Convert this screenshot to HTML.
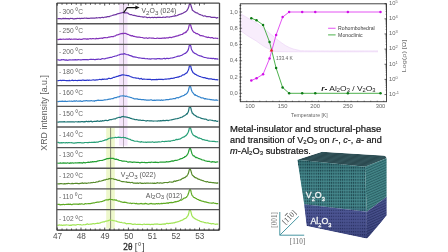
<!DOCTYPE html>
<html><head><meta charset="utf-8"><style>
html,body{margin:0;padding:0;background:#fff;}
body{width:448px;height:252px;overflow:hidden;}
svg{display:block;}
text{font-family:"Liberation Sans",sans-serif;}
.pl{font-size:7.9px;fill:#666;word-spacing:-0.6px;}
.deg{font-size:10px;}
.xt{font-size:8.2px;fill:#505050;}
.xtitle{font-size:9.3px;fill:#333;font-family:"Liberation Serif",serif;}
.ytitle{font-size:9.2px;fill:#606060;}
.pk{font-size:6.9px;fill:#555;}
.sub{font-size:6.2px;}
.sub2{font-size:5.4px;}
.sub3{font-size:5.8px;stroke-width:0.12px;}
.sup{font-size:4px;}
.ax{font-size:5.8px;fill:#666;}
.ax2{font-size:6px;fill:#666;}
.ax3{font-size:6.1px;fill:#707070;}
.sm{font-size:6px;fill:#666;}
.lg{font-size:5.7px;fill:#3a3a3a;}
.rt{font-size:7.9px;fill:#222;}
.tb{font-size:8.9px;fill:#151515;stroke:#151515;stroke-width:0.2px;}
.cb{font-size:8.8px;fill:#f4f6f6;stroke:#f4f6f6;stroke-width:0.3px;}
.csub{font-size:5.6px;}
.ser{font-size:7.2px;fill:#666;font-family:"Liberation Serif",serif;}
.ser2{fill:#444;font-size:7.6px;}
</style></head>
<body><svg width="448" height="252" viewBox="0 0 448 252">
<defs>
<pattern id="gv" width="2.2" height="3.05" patternUnits="userSpaceOnUse" x="297.5" y="160"><rect width="2.2" height="3.05" fill="#4b9296"/><rect x="0.5" y="0.55" width="1.2" height="2.0" fill="#1f4850"/></pattern>
<pattern id="ga" width="2.2" height="3.05" patternUnits="userSpaceOnUse" x="297.5" y="160"><rect width="2.2" height="3.05" fill="#4a5290"/><rect x="0.6" y="0.7" width="1.0" height="1.6" fill="#282e60"/></pattern>
<pattern id="sv" width="3" height="2.3" patternUnits="userSpaceOnUse" patternTransform="rotate(-24)"><rect width="3" height="2.3" fill="#45888a"/><rect y="1.3" width="3" height="0.9" fill="#275a60"/></pattern>
<pattern id="sa" width="3" height="2.3" patternUnits="userSpaceOnUse" patternTransform="rotate(-24)"><rect width="3" height="2.3" fill="#48508c"/><rect y="1.3" width="3" height="0.9" fill="#282e62"/></pattern>
<pattern id="tp" width="3" height="1.2" patternUnits="userSpaceOnUse" patternTransform="rotate(6)"><rect width="3" height="1.2" fill="#34565c"/><rect y="0.7" width="3" height="0.5" fill="#27454b"/></pattern>
<linearGradient id="shA" x1="0" y1="0" x2="0" y2="1"><stop offset="0" stop-color="#3a6a8a" stop-opacity="0.35"/><stop offset="0.25" stop-color="#6070b0" stop-opacity="0.05"/><stop offset="1" stop-color="#101840" stop-opacity="0.25"/></linearGradient>
<linearGradient id="shV" x1="0" y1="0" x2="0" y2="1"><stop offset="0" stop-color="#0a2a30" stop-opacity="0.30"/><stop offset="0.3" stop-color="#0a2a30" stop-opacity="0.05"/><stop offset="0.6" stop-color="#000" stop-opacity="0.03"/><stop offset="0.88" stop-color="#000" stop-opacity="0.02"/><stop offset="1" stop-color="#4050a0" stop-opacity="0.3"/></linearGradient>
</defs>
<rect x="119" y="3.05" width="8.5" height="142.64999999999998" fill="#f5e6fb"/>
<rect x="106.2" y="127.8" width="8.6" height="100.8" fill="#eef8cc"/>
<line x1="123.5" y1="3.05" x2="123.5" y2="147.4" stroke="#8a7f8c" stroke-width="0.6"/>
<line x1="110.6" y1="127.5" x2="110.6" y2="230.2" stroke="#5a5a50" stroke-width="0.7"/>
<polyline points="57.3,18.72 58.3,18.58 59.3,18.71 60.3,18.72 61.3,18.82 62.3,18.68 63.3,18.44 64.3,18.55 65.3,18.44 66.3,18.57 67.3,18.53 68.3,18.56 69.3,18.89 70.3,18.42 71.3,18.48 72.3,18.47 73.3,18.85 74.3,18.84 75.3,18.68 76.3,18.59 77.3,18.43 78.3,18.48 79.3,18.36 80.3,18.56 81.3,18.37 82.3,18.33 83.3,18.50 84.3,18.05 85.3,18.23 86.3,18.09 87.3,18.39 88.3,18.38 89.3,18.28 90.3,18.20 91.3,18.03 92.3,18.06 93.3,18.14 94.3,18.19 95.3,18.06 96.3,17.69 97.3,17.99 98.3,17.74 99.3,17.63 100.3,17.90 101.3,17.53 102.3,17.21 103.3,17.70 104.3,17.27 105.3,17.10 106.3,17.08 107.3,16.68 108.3,16.60 109.3,16.65 110.3,16.01 111.3,15.80 112.3,15.47 113.3,15.09 114.3,14.96 115.3,14.65 116.3,14.55 117.3,13.83 118.3,13.69 119.3,13.32 120.3,13.16 121.3,12.87 122.3,12.64 123.3,12.26 124.3,12.90 125.3,12.94 126.3,12.85 127.3,12.93 128.3,13.41 129.3,14.21 130.3,14.68 131.3,14.51 132.3,15.04 133.3,15.42 134.3,15.32 135.3,15.56 136.3,15.96 137.3,16.16 138.3,16.31 139.3,16.26 140.3,16.59 141.3,16.73 142.3,16.84 143.3,17.32 144.3,16.90 145.3,17.03 146.3,17.18 147.3,17.68 148.3,17.49 149.3,17.27 150.3,17.78 151.3,17.51 152.3,17.31 153.3,17.75 154.3,17.23 155.3,17.42 156.3,17.54 157.3,17.45 158.3,17.37 159.3,17.45 160.3,17.23 161.3,17.52 162.3,17.44 163.3,17.13 164.3,17.25 165.3,17.35 166.3,16.95 167.3,16.77 168.3,17.02 169.3,17.08 170.3,16.73 171.3,16.60 172.3,16.47 173.3,15.99 174.3,16.23 175.3,15.60 176.3,15.81 177.3,15.45 178.3,14.89 179.3,14.47 180.3,14.15 181.3,13.84 182.3,13.43 183.3,12.95 184.3,12.35 184.8,12.20 185.3,11.82 185.8,11.43 186.3,11.15 186.8,10.55 187.3,10.01 187.8,8.96 188.3,8.12 188.8,6.56 189.3,4.26 189.8,3.75 190.3,3.75 190.8,4.74 191.3,6.81 191.8,8.13 192.3,9.98 192.8,10.47 193.3,10.78 193.8,11.19 194.3,11.60 194.8,12.05 195.3,12.16 195.8,12.52 196.3,12.93 197.3,12.90 198.3,13.74 199.3,14.34 200.3,14.65 201.3,15.03 202.3,15.33 203.3,16.11 204.3,15.97 205.3,15.94 206.3,16.55 207.3,16.55 208.3,16.54 209.3,16.72 210.3,16.75 211.3,17.45 212.3,17.33 213.3,17.43 214.3,17.35 215.3,17.36 216.3,18.12 217.3,17.51 218.3,18.04" fill="none" stroke="#7036a2" stroke-width="1.2" stroke-linejoin="round"/>
<text transform="translate(59.0,13.65) scale(0.84,1)" class="pl">- 300 <tspan class="deg" dy="1.5">°</tspan><tspan dy="-1.5">C</tspan></text>
<polyline points="57.3,39.22 58.3,39.60 59.3,39.30 60.3,39.11 61.3,39.34 62.3,39.27 63.3,39.16 64.3,39.27 65.3,39.30 66.3,39.00 67.3,39.08 68.3,39.32 69.3,38.76 70.3,39.45 71.3,39.07 72.3,39.27 73.3,39.19 74.3,39.07 75.3,39.15 76.3,39.06 77.3,39.44 78.3,39.42 79.3,39.02 80.3,39.29 81.3,39.28 82.3,39.34 83.3,38.83 84.3,38.90 85.3,38.75 86.3,39.16 87.3,38.96 88.3,39.14 89.3,38.77 90.3,38.59 91.3,39.00 92.3,38.52 93.3,38.58 94.3,38.75 95.3,39.02 96.3,38.36 97.3,38.58 98.3,38.60 99.3,38.36 100.3,38.28 101.3,38.00 102.3,38.36 103.3,37.87 104.3,37.70 105.3,37.58 106.3,37.74 107.3,37.68 108.3,37.20 109.3,37.17 110.3,36.96 111.3,36.49 112.3,36.54 113.3,36.63 114.3,35.98 115.3,35.92 116.3,35.10 117.3,34.84 118.3,34.67 119.3,34.24 120.3,33.81 121.3,33.72 122.3,33.35 123.3,33.55 124.3,33.39 125.3,33.44 126.3,33.63 127.3,34.31 128.3,34.34 129.3,35.16 130.3,35.35 131.3,35.84 132.3,35.60 133.3,36.31 134.3,36.35 135.3,36.63 136.3,36.81 137.3,37.11 138.3,37.13 139.3,37.01 140.3,37.46 141.3,37.49 142.3,37.51 143.3,37.82 144.3,38.09 145.3,38.03 146.3,37.80 147.3,38.34 148.3,38.20 149.3,37.95 150.3,38.01 151.3,38.18 152.3,38.05 153.3,38.18 154.3,38.42 155.3,38.49 156.3,38.32 157.3,38.03 158.3,38.28 159.3,38.31 160.3,38.26 161.3,38.36 162.3,38.06 163.3,38.21 164.3,37.87 165.3,38.29 166.3,37.73 167.3,37.82 168.3,37.96 169.3,37.37 170.3,37.43 171.3,37.64 172.3,37.24 173.3,36.86 174.3,36.80 175.3,36.35 176.3,36.11 177.3,35.86 178.3,35.61 179.3,35.10 180.3,34.85 181.3,34.48 182.3,34.50 183.3,33.48 184.3,32.88 184.8,32.89 185.3,32.61 185.8,31.84 186.3,32.13 186.8,31.27 187.3,30.34 187.8,30.15 188.3,28.71 188.8,26.80 189.3,24.88 189.8,24.40 190.3,24.40 190.8,25.51 191.3,27.56 191.8,29.07 192.3,30.03 192.8,30.93 193.3,31.52 193.8,32.11 194.3,32.37 194.8,32.47 195.3,32.92 195.8,33.38 196.3,33.65 197.3,33.52 198.3,34.26 199.3,34.78 200.3,35.76 201.3,35.54 202.3,35.89 203.3,35.97 204.3,36.46 205.3,36.79 206.3,36.90 207.3,37.54 208.3,37.18 209.3,37.47 210.3,37.80 211.3,37.56 212.3,37.59 213.3,38.28 214.3,38.24 215.3,38.16 216.3,38.26 217.3,38.44 218.3,38.61" fill="none" stroke="#8232b8" stroke-width="1.2" stroke-linejoin="round"/>
<text transform="translate(59.0,32.70) scale(0.84,1)" class="pl">- 250 <tspan class="deg" dy="1.5">°</tspan><tspan dy="-1.5">C</tspan></text>
<line x1="56.8" y1="23.70" x2="219.5" y2="23.70" stroke="#555" stroke-width="1.35"/>
<polyline points="57.3,59.60 58.3,59.79 59.3,60.19 60.3,60.21 61.3,59.66 62.3,59.78 63.3,59.62 64.3,59.80 65.3,60.09 66.3,59.88 67.3,60.31 68.3,60.04 69.3,59.91 70.3,59.80 71.3,60.01 72.3,59.89 73.3,59.77 74.3,59.78 75.3,59.72 76.3,59.78 77.3,59.86 78.3,59.65 79.3,59.77 80.3,59.91 81.3,59.85 82.3,59.72 83.3,59.72 84.3,59.65 85.3,59.66 86.3,59.60 87.3,59.63 88.3,59.80 89.3,59.47 90.3,59.32 91.3,59.40 92.3,59.47 93.3,59.32 94.3,59.53 95.3,59.65 96.3,59.24 97.3,59.36 98.3,59.00 99.3,59.26 100.3,59.46 101.3,59.09 102.3,58.52 103.3,58.77 104.3,58.84 105.3,58.60 106.3,58.23 107.3,58.08 108.3,57.96 109.3,57.54 110.3,57.46 111.3,57.36 112.3,56.99 113.3,56.51 114.3,56.33 115.3,55.99 116.3,56.02 117.3,55.50 118.3,55.00 119.3,54.85 120.3,54.32 121.3,54.18 122.3,53.98 123.3,54.13 124.3,53.67 125.3,54.04 126.3,54.52 127.3,54.73 128.3,54.60 129.3,55.46 130.3,55.58 131.3,55.89 132.3,56.38 133.3,56.89 134.3,56.92 135.3,57.13 136.3,57.21 137.3,57.47 138.3,57.79 139.3,57.79 140.3,57.99 141.3,58.17 142.3,58.31 143.3,58.45 144.3,58.37 145.3,58.75 146.3,58.74 147.3,58.68 148.3,58.99 149.3,58.84 150.3,59.15 151.3,58.94 152.3,58.73 153.3,58.74 154.3,58.86 155.3,58.89 156.3,59.10 157.3,58.50 158.3,58.72 159.3,58.60 160.3,58.92 161.3,58.76 162.3,59.01 163.3,58.50 164.3,58.41 165.3,58.85 166.3,58.45 167.3,58.24 168.3,58.57 169.3,58.47 170.3,58.21 171.3,58.00 172.3,57.98 173.3,57.55 174.3,57.31 175.3,57.03 176.3,56.77 177.3,56.35 178.3,56.11 179.3,56.22 180.3,55.70 181.3,55.40 182.3,54.96 183.3,54.30 184.3,53.76 184.8,53.39 185.3,53.46 185.8,53.06 186.3,52.46 186.8,52.04 187.3,51.48 187.8,50.64 188.3,49.62 188.8,47.66 189.3,45.44 189.8,45.05 190.3,45.05 190.8,46.02 191.3,48.68 191.8,49.94 192.3,50.82 192.8,51.84 193.3,52.09 193.8,52.55 194.3,53.20 194.8,53.33 195.3,53.64 195.8,53.79 196.3,54.03 197.3,54.65 198.3,55.27 199.3,55.57 200.3,55.95 201.3,56.17 202.3,56.57 203.3,57.05 204.3,57.43 205.3,57.50 206.3,57.78 207.3,58.04 208.3,58.04 209.3,58.26 210.3,58.30 211.3,58.35 212.3,58.64 213.3,58.25 214.3,58.83 215.3,58.66 216.3,58.92 217.3,58.81 218.3,59.51" fill="none" stroke="#6a34c4" stroke-width="1.2" stroke-linejoin="round"/>
<text transform="translate(59.0,53.90) scale(0.84,1)" class="pl">- 200 <tspan class="deg" dy="1.5">°</tspan><tspan dy="-1.5">C</tspan></text>
<line x1="56.8" y1="44.35" x2="219.5" y2="44.35" stroke="#555" stroke-width="1.35"/>
<polyline points="57.3,80.78 58.3,80.59 59.3,80.52 60.3,80.20 61.3,80.56 62.3,80.38 63.3,80.47 64.3,80.43 65.3,80.50 66.3,80.61 67.3,80.48 68.3,80.76 69.3,80.34 70.3,80.73 71.3,80.49 72.3,80.15 73.3,80.56 74.3,80.50 75.3,80.28 76.3,80.48 77.3,80.61 78.3,80.41 79.3,80.33 80.3,80.29 81.3,80.54 82.3,80.07 83.3,80.07 84.3,80.34 85.3,80.27 86.3,80.38 87.3,80.02 88.3,80.37 89.3,80.09 90.3,80.27 91.3,80.27 92.3,79.98 93.3,79.83 94.3,80.03 95.3,80.10 96.3,79.78 97.3,79.88 98.3,79.76 99.3,79.47 100.3,79.47 101.3,79.68 102.3,79.09 103.3,79.40 104.3,79.15 105.3,79.28 106.3,79.04 107.3,79.20 108.3,78.39 109.3,78.28 110.3,78.54 111.3,78.37 112.3,78.13 113.3,77.36 114.3,77.35 115.3,76.96 116.3,76.68 117.3,76.30 118.3,76.14 119.3,75.62 120.3,75.61 121.3,75.15 122.3,74.94 123.3,74.85 124.3,75.02 125.3,75.27 126.3,75.28 127.3,75.66 128.3,75.60 129.3,76.06 130.3,76.55 131.3,76.94 132.3,77.28 133.3,77.61 134.3,77.76 135.3,77.88 136.3,78.06 137.3,78.24 138.3,78.13 139.3,78.79 140.3,78.79 141.3,78.41 142.3,79.35 143.3,79.20 144.3,79.16 145.3,79.23 146.3,79.24 147.3,79.41 148.3,79.34 149.3,79.43 150.3,79.33 151.3,79.83 152.3,79.67 153.3,79.52 154.3,79.71 155.3,79.71 156.3,79.40 157.3,79.62 158.3,79.37 159.3,79.33 160.3,79.38 161.3,79.30 162.3,79.37 163.3,79.55 164.3,79.25 165.3,79.09 166.3,79.19 167.3,79.03 168.3,78.78 169.3,78.96 170.3,78.57 171.3,78.21 172.3,78.49 173.3,78.19 174.3,78.04 175.3,77.52 176.3,77.50 177.3,77.12 178.3,77.10 179.3,76.64 180.3,76.27 181.3,76.19 182.3,75.16 183.3,74.78 184.3,74.74 184.8,74.00 185.3,73.86 185.8,73.41 186.3,73.05 186.8,72.93 187.3,72.11 187.8,71.02 188.3,70.24 188.8,68.63 189.3,66.40 189.8,65.70 190.3,65.70 190.8,66.34 191.3,68.77 191.8,70.38 192.3,71.08 192.8,72.32 193.3,72.91 193.8,73.13 194.3,73.51 194.8,74.12 195.3,74.45 195.8,74.47 196.3,74.75 197.3,75.54 198.3,75.80 199.3,76.30 200.3,76.51 201.3,76.97 202.3,77.29 203.3,77.64 204.3,77.65 205.3,77.83 206.3,78.36 207.3,78.34 208.3,78.81 209.3,78.82 210.3,78.84 211.3,78.83 212.3,79.29 213.3,79.34 214.3,79.39 215.3,79.78 216.3,79.59 217.3,79.79 218.3,79.67" fill="none" stroke="#2a36cc" stroke-width="1.2" stroke-linejoin="round"/>
<text transform="translate(59.0,74.20) scale(0.84,1)" class="pl">- 180 <tspan class="deg" dy="1.5">°</tspan><tspan dy="-1.5">C</tspan></text>
<line x1="56.8" y1="65.00" x2="219.5" y2="65.00" stroke="#555" stroke-width="1.35"/>
<polyline points="57.3,101.50 58.3,101.65 59.3,101.28 60.3,101.24 61.3,101.38 62.3,101.11 63.3,101.31 64.3,101.37 65.3,101.16 66.3,101.53 67.3,101.36 68.3,101.23 69.3,101.07 70.3,101.24 71.3,101.15 72.3,101.31 73.3,101.13 74.3,100.87 75.3,101.28 76.3,100.72 77.3,101.25 78.3,101.12 79.3,101.07 80.3,100.90 81.3,101.29 82.3,101.43 83.3,100.93 84.3,100.87 85.3,100.88 86.3,100.50 87.3,100.91 88.3,100.88 89.3,100.73 90.3,100.80 91.3,100.53 92.3,101.02 93.3,100.83 94.3,101.34 95.3,100.53 96.3,100.69 97.3,100.40 98.3,100.12 99.3,100.45 100.3,100.42 101.3,100.39 102.3,100.36 103.3,100.23 104.3,99.90 105.3,99.89 106.3,99.76 107.3,99.66 108.3,99.30 109.3,99.20 110.3,99.12 111.3,98.76 112.3,98.67 113.3,98.59 114.3,97.84 115.3,97.71 116.3,97.65 117.3,96.97 118.3,96.78 119.3,96.82 120.3,95.99 121.3,96.01 122.3,95.78 123.3,95.85 124.3,95.95 125.3,96.33 126.3,96.07 127.3,96.49 128.3,96.83 129.3,97.02 130.3,97.38 131.3,97.58 132.3,98.05 133.3,98.26 134.3,98.89 135.3,98.80 136.3,98.80 137.3,98.87 138.3,99.33 139.3,99.43 140.3,99.25 141.3,99.70 142.3,99.61 143.3,99.52 144.3,99.89 145.3,99.74 146.3,100.15 147.3,100.03 148.3,100.12 149.3,100.12 150.3,99.96 151.3,99.75 152.3,100.32 153.3,100.31 154.3,100.12 155.3,100.39 156.3,100.11 157.3,100.08 158.3,100.21 159.3,100.04 160.3,100.38 161.3,99.93 162.3,100.30 163.3,100.10 164.3,100.01 165.3,99.92 166.3,99.61 167.3,99.67 168.3,99.65 169.3,99.37 170.3,99.06 171.3,99.21 172.3,98.99 173.3,98.65 174.3,98.63 175.3,98.69 176.3,97.77 177.3,97.54 178.3,98.00 179.3,97.31 180.3,96.86 181.3,96.35 182.3,95.96 183.3,95.65 184.3,95.27 184.8,94.78 185.3,94.30 185.8,94.35 186.3,93.96 186.8,93.32 187.3,93.08 187.8,91.99 188.3,90.88 188.8,89.02 189.3,86.94 189.8,86.35 190.3,86.35 190.8,87.31 191.3,89.62 191.8,91.08 192.3,92.01 192.8,92.67 193.3,93.13 193.8,94.03 194.3,94.34 194.8,95.04 195.3,94.56 195.8,95.31 196.3,95.46 197.3,95.87 198.3,96.67 199.3,96.77 200.3,97.25 201.3,97.94 202.3,97.88 203.3,98.01 204.3,98.83 205.3,98.59 206.3,98.92 207.3,99.06 208.3,99.25 209.3,99.25 210.3,99.67 211.3,99.60 212.3,99.95 213.3,99.85 214.3,100.22 215.3,100.19 216.3,99.94 217.3,100.24 218.3,100.42" fill="none" stroke="#3484cc" stroke-width="1.2" stroke-linejoin="round"/>
<text transform="translate(59.0,95.20) scale(0.84,1)" class="pl">- 160 <tspan class="deg" dy="1.5">°</tspan><tspan dy="-1.5">C</tspan></text>
<line x1="56.8" y1="85.65" x2="219.5" y2="85.65" stroke="#555" stroke-width="1.35"/>
<polyline points="57.3,122.16 58.3,122.09 59.3,121.91 60.3,121.77 61.3,121.86 62.3,121.83 63.3,121.93 64.3,121.67 65.3,121.98 66.3,122.00 67.3,121.73 68.3,121.87 69.3,121.93 70.3,121.97 71.3,121.91 72.3,121.74 73.3,121.78 74.3,122.05 75.3,121.74 76.3,121.77 77.3,121.97 78.3,121.64 79.3,121.82 80.3,121.81 81.3,121.59 82.3,121.48 83.3,121.82 84.3,121.60 85.3,121.82 86.3,121.22 87.3,121.70 88.3,121.37 89.3,121.68 90.3,121.39 91.3,121.10 92.3,121.93 93.3,121.51 94.3,121.30 95.3,121.37 96.3,121.42 97.3,120.86 98.3,121.18 99.3,121.43 100.3,120.91 101.3,121.30 102.3,120.70 103.3,120.92 104.3,120.69 105.3,120.38 106.3,120.46 107.3,120.59 108.3,120.49 109.3,119.81 110.3,119.70 111.3,119.77 112.3,119.24 113.3,119.05 114.3,118.75 115.3,118.99 116.3,118.33 117.3,117.80 118.3,117.52 119.3,117.21 120.3,117.56 121.3,116.89 122.3,116.70 123.3,116.28 124.3,116.95 125.3,116.95 126.3,117.07 127.3,117.16 128.3,117.67 129.3,117.68 130.3,118.33 131.3,118.43 132.3,118.85 133.3,118.98 134.3,119.37 135.3,119.75 136.3,119.46 137.3,119.78 138.3,120.09 139.3,120.09 140.3,120.06 141.3,120.52 142.3,120.46 143.3,120.43 144.3,120.50 145.3,120.72 146.3,121.09 147.3,120.53 148.3,120.73 149.3,120.82 150.3,120.89 151.3,120.81 152.3,120.95 153.3,121.06 154.3,121.01 155.3,120.98 156.3,120.98 157.3,121.06 158.3,120.71 159.3,121.04 160.3,120.65 161.3,120.92 162.3,120.62 163.3,120.39 164.3,120.54 165.3,120.64 166.3,120.42 167.3,120.32 168.3,120.56 169.3,120.24 170.3,119.98 171.3,119.95 172.3,119.70 173.3,119.40 174.3,119.20 175.3,118.96 176.3,118.77 177.3,118.65 178.3,118.30 179.3,118.01 180.3,117.65 181.3,117.22 182.3,117.05 183.3,116.32 184.3,115.74 184.8,115.63 185.3,115.15 185.8,114.72 186.3,114.46 186.8,113.60 187.3,113.86 187.8,112.64 188.3,111.78 188.8,109.58 189.3,107.00 189.8,107.00 190.3,107.00 190.8,107.87 191.3,110.21 191.8,111.64 192.3,113.20 192.8,113.39 193.3,114.03 193.8,114.54 194.3,115.02 194.8,115.13 195.3,115.64 195.8,115.80 196.3,116.20 197.3,117.02 198.3,117.08 199.3,117.47 200.3,117.77 201.3,118.42 202.3,118.59 203.3,118.77 204.3,119.12 205.3,119.17 206.3,119.25 207.3,119.97 208.3,120.32 209.3,119.98 210.3,120.00 211.3,120.24 212.3,120.38 213.3,120.74 214.3,120.86 215.3,120.66 216.3,121.06 217.3,121.30 218.3,121.22" fill="none" stroke="#1d7474" stroke-width="1.2" stroke-linejoin="round"/>
<text transform="translate(59.0,115.50) scale(0.84,1)" class="pl">- 150 <tspan class="deg" dy="1.5">°</tspan><tspan dy="-1.5">C</tspan></text>
<line x1="56.8" y1="106.30" x2="219.5" y2="106.30" stroke="#555" stroke-width="1.35"/>
<polyline points="57.3,142.29 58.3,142.39 59.3,142.86 60.3,142.86 61.3,142.69 62.3,142.86 63.3,142.49 64.3,142.74 65.3,142.92 66.3,142.48 67.3,142.82 68.3,142.67 69.3,142.71 70.3,142.76 71.3,142.64 72.3,142.82 73.3,143.03 74.3,143.09 75.3,142.91 76.3,142.82 77.3,142.68 78.3,142.66 79.3,142.56 80.3,142.63 81.3,142.78 82.3,142.76 83.3,143.00 84.3,142.64 85.3,142.50 86.3,142.48 87.3,142.58 88.3,142.56 89.3,142.34 90.3,142.47 91.3,142.31 92.3,142.29 93.3,142.31 94.3,142.05 95.3,142.32 96.3,142.20 97.3,142.18 98.3,142.05 99.3,141.48 100.3,141.26 101.3,141.36 102.3,141.01 103.3,140.61 104.3,140.33 105.3,139.88 106.3,139.92 107.3,139.38 108.3,138.78 109.3,138.23 110.3,138.16 111.3,138.09 112.3,137.82 113.3,137.76 114.3,137.73 115.3,137.27 116.3,137.64 117.3,137.52 118.3,137.13 119.3,137.30 120.3,137.45 121.3,137.63 122.3,137.47 123.3,137.31 124.3,137.60 125.3,137.65 126.3,138.10 127.3,138.34 128.3,138.83 129.3,139.12 130.3,139.37 131.3,140.26 132.3,140.37 133.3,140.64 134.3,141.07 135.3,141.26 136.3,141.26 137.3,141.20 138.3,141.58 139.3,141.74 140.3,142.16 141.3,141.60 142.3,141.98 143.3,142.04 144.3,142.27 145.3,142.10 146.3,142.30 147.3,142.09 148.3,142.03 149.3,142.10 150.3,142.05 151.3,142.24 152.3,141.81 153.3,142.17 154.3,142.35 155.3,142.03 156.3,142.10 157.3,142.11 158.3,141.95 159.3,141.79 160.3,142.01 161.3,141.77 162.3,141.43 163.3,141.49 164.3,141.57 165.3,141.44 166.3,141.39 167.3,141.28 168.3,141.03 169.3,141.06 170.3,141.34 171.3,140.76 172.3,140.75 173.3,140.29 174.3,140.32 175.3,139.95 176.3,139.33 177.3,139.63 178.3,139.34 179.3,139.05 180.3,138.85 181.3,138.34 182.3,137.49 183.3,137.19 184.3,136.88 184.8,136.52 185.3,135.84 185.8,135.75 186.3,135.29 186.8,134.71 187.3,133.94 187.8,133.04 188.3,132.06 188.8,130.52 189.3,128.22 189.8,127.65 190.3,127.65 190.8,128.79 191.3,130.85 191.8,132.46 192.3,133.56 192.8,134.40 193.3,135.11 193.8,135.41 194.3,135.96 194.8,135.79 195.3,136.22 195.8,136.82 196.3,136.62 197.3,137.21 198.3,138.18 199.3,137.93 200.3,138.51 201.3,138.64 202.3,139.56 203.3,139.53 204.3,139.82 205.3,140.09 206.3,140.31 207.3,140.35 208.3,140.98 209.3,141.09 210.3,141.26 211.3,141.24 212.3,141.36 213.3,141.29 214.3,141.41 215.3,141.53 216.3,141.74 217.3,141.77 218.3,141.59" fill="none" stroke="#28a078" stroke-width="1.2" stroke-linejoin="round"/>
<text transform="translate(59.0,136.60) scale(0.84,1)" class="pl">- 140 <tspan class="deg" dy="1.5">°</tspan><tspan dy="-1.5">C</tspan></text>
<line x1="56.8" y1="126.95" x2="219.5" y2="126.95" stroke="#555" stroke-width="1.35"/>
<polyline points="57.3,163.05 58.3,163.16 59.3,163.23 60.3,162.89 61.3,163.26 62.3,163.03 63.3,162.93 64.3,163.17 65.3,162.96 66.3,163.30 67.3,162.90 68.3,163.03 69.3,163.34 70.3,162.92 71.3,163.18 72.3,162.77 73.3,163.10 74.3,162.99 75.3,162.88 76.3,162.97 77.3,162.84 78.3,162.95 79.3,162.70 80.3,162.79 81.3,162.71 82.3,163.21 83.3,162.46 84.3,162.61 85.3,162.89 86.3,162.49 87.3,162.36 88.3,162.19 89.3,162.50 90.3,161.94 91.3,162.15 92.3,161.59 93.3,161.93 94.3,161.66 95.3,161.71 96.3,161.68 97.3,161.11 98.3,160.95 99.3,160.62 100.3,160.51 101.3,160.52 102.3,160.44 103.3,159.97 104.3,159.68 105.3,159.41 106.3,158.87 107.3,158.66 108.3,158.57 109.3,158.34 110.3,158.33 111.3,158.28 112.3,158.27 113.3,158.40 114.3,158.92 115.3,159.32 116.3,159.08 117.3,159.60 118.3,159.71 119.3,160.48 120.3,160.50 121.3,160.68 122.3,161.16 123.3,161.19 124.3,161.14 125.3,161.24 126.3,161.29 127.3,161.85 128.3,162.06 129.3,161.82 130.3,161.83 131.3,162.04 132.3,162.38 133.3,162.07 134.3,162.12 135.3,162.21 136.3,162.44 137.3,162.34 138.3,162.28 139.3,162.55 140.3,162.81 141.3,162.43 142.3,162.42 143.3,162.52 144.3,162.37 145.3,162.64 146.3,162.56 147.3,162.60 148.3,162.44 149.3,162.25 150.3,162.57 151.3,162.14 152.3,162.23 153.3,162.34 154.3,162.36 155.3,162.12 156.3,162.44 157.3,162.40 158.3,162.54 159.3,162.22 160.3,162.02 161.3,162.11 162.3,162.08 163.3,162.13 164.3,161.99 165.3,162.20 166.3,161.67 167.3,161.84 168.3,161.86 169.3,161.68 170.3,161.56 171.3,161.12 172.3,160.92 173.3,161.17 174.3,160.56 175.3,160.34 176.3,160.36 177.3,160.24 178.3,159.80 179.3,159.44 180.3,158.89 181.3,158.61 182.3,158.47 183.3,157.58 184.3,157.37 184.8,156.64 185.3,156.72 185.8,156.29 186.3,155.93 186.8,155.42 187.3,154.50 187.8,153.79 188.3,152.69 188.8,151.04 189.3,149.09 189.8,148.30 190.3,148.30 190.8,149.48 191.3,151.41 191.8,153.21 192.3,154.27 192.8,155.07 193.3,155.80 193.8,155.77 194.3,156.01 194.8,156.55 195.3,157.07 195.8,157.66 196.3,157.41 197.3,157.73 198.3,158.36 199.3,158.67 200.3,158.97 201.3,159.39 202.3,160.00 203.3,160.02 204.3,160.34 205.3,160.99 206.3,161.00 207.3,161.38 208.3,161.32 209.3,161.36 210.3,161.79 211.3,162.10 212.3,161.61 213.3,161.89 214.3,161.78 215.3,162.38 216.3,162.03 217.3,161.92 218.3,162.00" fill="none" stroke="#24a034" stroke-width="1.2" stroke-linejoin="round"/>
<text transform="translate(59.0,156.60) scale(0.84,1)" class="pl">- 130 <tspan class="deg" dy="1.5">°</tspan><tspan dy="-1.5">C</tspan></text>
<line x1="56.8" y1="147.60" x2="219.5" y2="147.60" stroke="#555" stroke-width="1.35"/>
<polyline points="57.3,183.87 58.3,183.78 59.3,183.84 60.3,183.63 61.3,183.61 62.3,183.77 63.3,184.02 64.3,183.63 65.3,183.83 66.3,183.62 67.3,183.67 68.3,183.41 69.3,183.48 70.3,183.75 71.3,183.59 72.3,183.32 73.3,183.71 74.3,183.51 75.3,183.35 76.3,183.31 77.3,183.42 78.3,183.72 79.3,183.68 80.3,183.37 81.3,183.31 82.3,182.88 83.3,183.44 84.3,183.04 85.3,183.05 86.3,183.43 87.3,183.21 88.3,182.96 89.3,183.00 90.3,182.85 91.3,182.64 92.3,182.77 93.3,182.42 94.3,182.48 95.3,182.32 96.3,181.96 97.3,181.98 98.3,181.62 99.3,181.17 100.3,181.21 101.3,180.97 102.3,180.53 103.3,180.43 104.3,179.86 105.3,179.98 106.3,179.34 107.3,179.28 108.3,179.12 109.3,178.51 110.3,178.91 111.3,178.45 112.3,178.75 113.3,178.77 114.3,179.44 115.3,179.32 116.3,179.56 117.3,180.15 118.3,180.45 119.3,180.27 120.3,180.95 121.3,181.30 122.3,181.57 123.3,181.58 124.3,181.78 125.3,181.98 126.3,181.85 127.3,182.35 128.3,182.32 129.3,182.25 130.3,182.78 131.3,182.50 132.3,182.43 133.3,183.07 134.3,183.08 135.3,183.12 136.3,183.31 137.3,182.93 138.3,183.38 139.3,182.99 140.3,182.84 141.3,183.41 142.3,183.20 143.3,183.50 144.3,183.02 145.3,183.30 146.3,183.22 147.3,183.17 148.3,183.08 149.3,183.23 150.3,183.16 151.3,183.25 152.3,183.12 153.3,183.33 154.3,183.09 155.3,183.43 156.3,183.14 157.3,182.67 158.3,182.97 159.3,183.17 160.3,182.85 161.3,183.03 162.3,183.09 163.3,182.87 164.3,182.53 165.3,182.52 166.3,182.52 167.3,182.58 168.3,182.50 169.3,181.95 170.3,182.01 171.3,182.08 172.3,182.13 173.3,181.82 174.3,180.93 175.3,181.35 176.3,180.91 177.3,180.58 178.3,180.34 179.3,180.02 180.3,179.85 181.3,179.38 182.3,178.44 183.3,178.40 184.3,177.58 184.8,177.76 185.3,177.19 185.8,176.76 186.3,176.24 186.8,176.17 187.3,175.28 187.8,174.52 188.3,173.58 188.8,171.66 189.3,169.62 189.8,168.95 190.3,168.95 190.8,170.44 191.3,172.17 191.8,173.90 192.3,175.05 192.8,175.60 193.3,175.94 193.8,176.60 194.3,176.67 194.8,177.44 195.3,177.77 195.8,177.54 196.3,178.02 197.3,178.42 198.3,179.21 199.3,179.34 200.3,179.83 201.3,180.12 202.3,180.56 203.3,180.64 204.3,181.24 205.3,181.54 206.3,181.85 207.3,181.56 208.3,182.08 209.3,182.29 210.3,182.42 211.3,182.46 212.3,182.72 213.3,182.65 214.3,182.81 215.3,182.88 216.3,183.04 217.3,182.93 218.3,183.09" fill="none" stroke="#568a2a" stroke-width="1.2" stroke-linejoin="round"/>
<text transform="translate(59.0,178.20) scale(0.84,1)" class="pl">- 120 <tspan class="deg" dy="1.5">°</tspan><tspan dy="-1.5">C</tspan></text>
<line x1="56.8" y1="168.25" x2="219.5" y2="168.25" stroke="#555" stroke-width="1.35"/>
<polyline points="57.3,204.46 58.3,204.43 59.3,204.40 60.3,204.85 61.3,204.54 62.3,204.57 63.3,204.28 64.3,204.69 65.3,204.52 66.3,204.43 67.3,204.43 68.3,204.17 69.3,204.41 70.3,204.14 71.3,204.56 72.3,204.60 73.3,204.04 74.3,204.15 75.3,204.12 76.3,204.16 77.3,204.07 78.3,204.34 79.3,203.92 80.3,204.15 81.3,203.84 82.3,203.96 83.3,204.28 84.3,204.11 85.3,203.62 86.3,203.78 87.3,203.76 88.3,203.58 89.3,203.62 90.3,203.55 91.3,203.33 92.3,203.22 93.3,202.85 94.3,202.98 95.3,202.50 96.3,202.35 97.3,202.18 98.3,202.09 99.3,202.03 100.3,201.78 101.3,201.56 102.3,201.38 103.3,200.96 104.3,200.74 105.3,200.02 106.3,199.92 107.3,199.83 108.3,199.87 109.3,199.39 110.3,199.38 111.3,199.51 112.3,199.62 113.3,200.00 114.3,199.72 115.3,200.11 116.3,199.93 117.3,200.71 118.3,201.04 119.3,201.04 120.3,201.55 121.3,201.80 122.3,202.12 123.3,202.38 124.3,202.18 125.3,202.44 126.3,202.46 127.3,202.97 128.3,203.02 129.3,203.29 130.3,203.05 131.3,203.56 132.3,203.29 133.3,203.26 134.3,203.26 135.3,203.73 136.3,203.41 137.3,203.78 138.3,203.82 139.3,203.95 140.3,203.53 141.3,203.46 142.3,203.88 143.3,203.93 144.3,203.86 145.3,203.36 146.3,203.63 147.3,203.92 148.3,204.14 149.3,203.93 150.3,203.59 151.3,203.46 152.3,203.83 153.3,203.89 154.3,203.84 155.3,204.06 156.3,203.53 157.3,203.86 158.3,203.44 159.3,203.90 160.3,203.77 161.3,203.44 162.3,203.58 163.3,203.24 164.3,203.31 165.3,203.45 166.3,203.04 167.3,202.90 168.3,203.30 169.3,202.51 170.3,202.62 171.3,202.42 172.3,202.73 173.3,202.35 174.3,202.08 175.3,201.60 176.3,201.81 177.3,201.43 178.3,201.33 179.3,200.66 180.3,200.18 181.3,200.14 182.3,199.50 183.3,198.82 184.3,198.10 184.8,197.98 185.3,197.85 185.8,197.67 186.3,197.24 186.8,196.73 187.3,196.01 187.8,195.25 188.3,193.79 188.8,192.34 189.3,190.30 189.8,189.60 190.3,189.60 190.8,190.58 191.3,192.92 191.8,194.71 192.3,195.62 192.8,196.01 193.3,196.87 193.8,197.41 194.3,197.51 194.8,197.84 195.3,198.08 195.8,198.35 196.3,198.48 197.3,199.39 198.3,199.53 199.3,200.31 200.3,200.40 201.3,200.85 202.3,201.17 203.3,201.33 204.3,201.78 205.3,201.81 206.3,202.07 207.3,202.40 208.3,202.70 209.3,202.89 210.3,202.99 211.3,203.06 212.3,203.15 213.3,202.71 214.3,203.23 215.3,203.30 216.3,203.67 217.3,203.72 218.3,203.71" fill="none" stroke="#5eaa22" stroke-width="1.2" stroke-linejoin="round"/>
<text transform="translate(59.0,198.50) scale(0.84,1)" class="pl">- 110 <tspan class="deg" dy="1.5">°</tspan><tspan dy="-1.5">C</tspan></text>
<line x1="56.8" y1="188.90" x2="219.5" y2="188.90" stroke="#555" stroke-width="1.35"/>
<polyline points="57.3,225.11 58.3,225.32 59.3,224.83 60.3,225.22 61.3,224.91 62.3,225.52 63.3,225.08 64.3,225.02 65.3,225.03 66.3,224.94 67.3,224.98 68.3,224.99 69.3,225.34 70.3,225.11 71.3,225.39 72.3,224.84 73.3,224.87 74.3,224.94 75.3,225.03 76.3,224.96 77.3,224.50 78.3,224.49 79.3,224.78 80.3,224.51 81.3,224.99 82.3,225.01 83.3,224.70 84.3,224.73 85.3,224.62 86.3,224.43 87.3,223.85 88.3,224.45 89.3,224.24 90.3,224.12 91.3,224.08 92.3,223.81 93.3,223.54 94.3,223.96 95.3,223.56 96.3,223.48 97.3,223.19 98.3,223.34 99.3,223.17 100.3,223.03 101.3,222.27 102.3,222.06 103.3,221.79 104.3,221.93 105.3,221.28 106.3,221.06 107.3,220.93 108.3,220.63 109.3,220.20 110.3,220.16 111.3,220.27 112.3,220.27 113.3,220.63 114.3,220.73 115.3,221.00 116.3,221.18 117.3,221.59 118.3,221.89 119.3,222.16 120.3,222.51 121.3,222.23 122.3,222.76 123.3,222.97 124.3,222.81 125.3,223.13 126.3,223.80 127.3,223.52 128.3,223.61 129.3,223.52 130.3,223.71 131.3,223.89 132.3,224.31 133.3,224.32 134.3,224.17 135.3,224.17 136.3,224.49 137.3,224.41 138.3,224.45 139.3,224.39 140.3,224.36 141.3,224.50 142.3,224.68 143.3,224.25 144.3,224.19 145.3,224.51 146.3,224.31 147.3,224.41 148.3,224.37 149.3,224.40 150.3,224.61 151.3,224.36 152.3,224.27 153.3,224.59 154.3,224.06 155.3,224.01 156.3,224.03 157.3,223.97 158.3,224.16 159.3,224.32 160.3,224.32 161.3,224.31 162.3,224.08 163.3,224.05 164.3,223.85 165.3,224.26 166.3,223.40 167.3,223.31 168.3,223.62 169.3,223.37 170.3,223.28 171.3,223.17 172.3,223.10 173.3,222.90 174.3,222.82 175.3,222.42 176.3,222.21 177.3,221.87 178.3,221.77 179.3,221.27 180.3,220.90 181.3,220.39 182.3,220.24 183.3,219.49 184.3,218.86 184.8,218.65 185.3,218.52 185.8,218.20 186.3,217.77 186.8,217.14 187.3,216.41 187.8,215.92 188.3,214.87 188.8,212.98 189.3,210.73 189.8,210.25 190.3,210.25 190.8,211.27 191.3,213.33 191.8,215.24 192.3,216.27 192.8,216.74 193.3,217.61 193.8,217.81 194.3,218.14 194.8,218.56 195.3,219.02 195.8,219.13 196.3,219.45 197.3,219.84 198.3,220.51 199.3,220.59 200.3,221.48 201.3,221.57 202.3,221.86 203.3,221.99 204.3,222.54 205.3,222.57 206.3,222.98 207.3,222.94 208.3,222.94 209.3,223.48 210.3,223.47 211.3,223.85 212.3,223.62 213.3,223.69 214.3,223.99 215.3,224.29 216.3,224.10 217.3,224.03 218.3,224.11" fill="none" stroke="#a0e454" stroke-width="1.2" stroke-linejoin="round"/>
<text transform="translate(59.0,221.00) scale(0.84,1)" class="pl">- 102 <tspan class="deg" dy="1.5">°</tspan><tspan dy="-1.5">C</tspan></text>
<line x1="56.8" y1="209.55" x2="219.5" y2="209.55" stroke="#555" stroke-width="1.35"/>
<line x1="56.8" y1="3.05" x2="219.5" y2="3.05" stroke="#484848" stroke-width="1.3"/>
<line x1="56.8" y1="230.2" x2="219.5" y2="230.2" stroke="#222" stroke-width="1.3"/>
<line x1="56.8" y1="3.05" x2="56.8" y2="230.2" stroke="#555" stroke-width="1.3"/>
<line x1="219.5" y1="3.05" x2="219.5" y2="230.2" stroke="#444" stroke-width="1.3"/>
<line x1="57.30" y1="3.05" x2="57.30" y2="5.65" stroke="#333" stroke-width="0.85"/>
<line x1="57.30" y1="230.2" x2="57.30" y2="227.6" stroke="#333" stroke-width="0.85"/>
<line x1="62.04" y1="3.05" x2="62.04" y2="4.75" stroke="#333" stroke-width="0.85"/>
<line x1="62.04" y1="230.2" x2="62.04" y2="228.5" stroke="#333" stroke-width="0.85"/>
<line x1="66.78" y1="3.05" x2="66.78" y2="4.75" stroke="#333" stroke-width="0.85"/>
<line x1="66.78" y1="230.2" x2="66.78" y2="228.5" stroke="#333" stroke-width="0.85"/>
<line x1="71.52" y1="3.05" x2="71.52" y2="4.75" stroke="#333" stroke-width="0.85"/>
<line x1="71.52" y1="230.2" x2="71.52" y2="228.5" stroke="#333" stroke-width="0.85"/>
<line x1="76.26" y1="3.05" x2="76.26" y2="4.75" stroke="#333" stroke-width="0.85"/>
<line x1="76.26" y1="230.2" x2="76.26" y2="228.5" stroke="#333" stroke-width="0.85"/>
<line x1="81.00" y1="3.05" x2="81.00" y2="5.65" stroke="#333" stroke-width="0.85"/>
<line x1="81.00" y1="230.2" x2="81.00" y2="227.6" stroke="#333" stroke-width="0.85"/>
<line x1="85.74" y1="3.05" x2="85.74" y2="4.75" stroke="#333" stroke-width="0.85"/>
<line x1="85.74" y1="230.2" x2="85.74" y2="228.5" stroke="#333" stroke-width="0.85"/>
<line x1="90.48" y1="3.05" x2="90.48" y2="4.75" stroke="#333" stroke-width="0.85"/>
<line x1="90.48" y1="230.2" x2="90.48" y2="228.5" stroke="#333" stroke-width="0.85"/>
<line x1="95.22" y1="3.05" x2="95.22" y2="4.75" stroke="#333" stroke-width="0.85"/>
<line x1="95.22" y1="230.2" x2="95.22" y2="228.5" stroke="#333" stroke-width="0.85"/>
<line x1="99.96" y1="3.05" x2="99.96" y2="4.75" stroke="#333" stroke-width="0.85"/>
<line x1="99.96" y1="230.2" x2="99.96" y2="228.5" stroke="#333" stroke-width="0.85"/>
<line x1="104.70" y1="3.05" x2="104.70" y2="5.65" stroke="#333" stroke-width="0.85"/>
<line x1="104.70" y1="230.2" x2="104.70" y2="227.6" stroke="#333" stroke-width="0.85"/>
<line x1="109.44" y1="3.05" x2="109.44" y2="4.75" stroke="#333" stroke-width="0.85"/>
<line x1="109.44" y1="230.2" x2="109.44" y2="228.5" stroke="#333" stroke-width="0.85"/>
<line x1="114.18" y1="3.05" x2="114.18" y2="4.75" stroke="#333" stroke-width="0.85"/>
<line x1="114.18" y1="230.2" x2="114.18" y2="228.5" stroke="#333" stroke-width="0.85"/>
<line x1="118.92" y1="3.05" x2="118.92" y2="4.75" stroke="#333" stroke-width="0.85"/>
<line x1="118.92" y1="230.2" x2="118.92" y2="228.5" stroke="#333" stroke-width="0.85"/>
<line x1="123.66" y1="3.05" x2="123.66" y2="4.75" stroke="#333" stroke-width="0.85"/>
<line x1="123.66" y1="230.2" x2="123.66" y2="228.5" stroke="#333" stroke-width="0.85"/>
<line x1="128.40" y1="3.05" x2="128.40" y2="5.65" stroke="#333" stroke-width="0.85"/>
<line x1="128.40" y1="230.2" x2="128.40" y2="227.6" stroke="#333" stroke-width="0.85"/>
<line x1="133.14" y1="3.05" x2="133.14" y2="4.75" stroke="#333" stroke-width="0.85"/>
<line x1="133.14" y1="230.2" x2="133.14" y2="228.5" stroke="#333" stroke-width="0.85"/>
<line x1="137.88" y1="3.05" x2="137.88" y2="4.75" stroke="#333" stroke-width="0.85"/>
<line x1="137.88" y1="230.2" x2="137.88" y2="228.5" stroke="#333" stroke-width="0.85"/>
<line x1="142.62" y1="3.05" x2="142.62" y2="4.75" stroke="#333" stroke-width="0.85"/>
<line x1="142.62" y1="230.2" x2="142.62" y2="228.5" stroke="#333" stroke-width="0.85"/>
<line x1="147.36" y1="3.05" x2="147.36" y2="4.75" stroke="#333" stroke-width="0.85"/>
<line x1="147.36" y1="230.2" x2="147.36" y2="228.5" stroke="#333" stroke-width="0.85"/>
<line x1="152.10" y1="3.05" x2="152.10" y2="5.65" stroke="#333" stroke-width="0.85"/>
<line x1="152.10" y1="230.2" x2="152.10" y2="227.6" stroke="#333" stroke-width="0.85"/>
<line x1="156.84" y1="3.05" x2="156.84" y2="4.75" stroke="#333" stroke-width="0.85"/>
<line x1="156.84" y1="230.2" x2="156.84" y2="228.5" stroke="#333" stroke-width="0.85"/>
<line x1="161.58" y1="3.05" x2="161.58" y2="4.75" stroke="#333" stroke-width="0.85"/>
<line x1="161.58" y1="230.2" x2="161.58" y2="228.5" stroke="#333" stroke-width="0.85"/>
<line x1="166.32" y1="3.05" x2="166.32" y2="4.75" stroke="#333" stroke-width="0.85"/>
<line x1="166.32" y1="230.2" x2="166.32" y2="228.5" stroke="#333" stroke-width="0.85"/>
<line x1="171.06" y1="3.05" x2="171.06" y2="4.75" stroke="#333" stroke-width="0.85"/>
<line x1="171.06" y1="230.2" x2="171.06" y2="228.5" stroke="#333" stroke-width="0.85"/>
<line x1="175.80" y1="3.05" x2="175.80" y2="5.65" stroke="#333" stroke-width="0.85"/>
<line x1="175.80" y1="230.2" x2="175.80" y2="227.6" stroke="#333" stroke-width="0.85"/>
<line x1="180.54" y1="3.05" x2="180.54" y2="4.75" stroke="#333" stroke-width="0.85"/>
<line x1="180.54" y1="230.2" x2="180.54" y2="228.5" stroke="#333" stroke-width="0.85"/>
<line x1="185.28" y1="3.05" x2="185.28" y2="4.75" stroke="#333" stroke-width="0.85"/>
<line x1="185.28" y1="230.2" x2="185.28" y2="228.5" stroke="#333" stroke-width="0.85"/>
<line x1="190.02" y1="3.05" x2="190.02" y2="4.75" stroke="#333" stroke-width="0.85"/>
<line x1="190.02" y1="230.2" x2="190.02" y2="228.5" stroke="#333" stroke-width="0.85"/>
<line x1="194.76" y1="3.05" x2="194.76" y2="4.75" stroke="#333" stroke-width="0.85"/>
<line x1="194.76" y1="230.2" x2="194.76" y2="228.5" stroke="#333" stroke-width="0.85"/>
<line x1="199.50" y1="3.05" x2="199.50" y2="5.65" stroke="#333" stroke-width="0.85"/>
<line x1="199.50" y1="230.2" x2="199.50" y2="227.6" stroke="#333" stroke-width="0.85"/>
<line x1="204.24" y1="3.05" x2="204.24" y2="4.75" stroke="#333" stroke-width="0.85"/>
<line x1="204.24" y1="230.2" x2="204.24" y2="228.5" stroke="#333" stroke-width="0.85"/>
<line x1="208.98" y1="230.2" x2="208.98" y2="228.5" stroke="#333" stroke-width="0.85"/>
<line x1="213.72" y1="230.2" x2="213.72" y2="228.5" stroke="#333" stroke-width="0.85"/>
<line x1="218.46" y1="230.2" x2="218.46" y2="228.5" stroke="#333" stroke-width="0.85"/>
<text x="57.6" y="239.3" class="xt" text-anchor="middle">47</text>
<text x="81.3" y="239.3" class="xt" text-anchor="middle">48</text>
<text x="105.0" y="239.3" class="xt" text-anchor="middle">49</text>
<text x="128.7" y="239.3" class="xt" text-anchor="middle">50</text>
<text x="152.4" y="239.3" class="xt" text-anchor="middle">51</text>
<text x="176.1" y="239.3" class="xt" text-anchor="middle">52</text>
<text x="199.8" y="239.3" class="xt" text-anchor="middle">53</text>
<text x="134" y="249.6" class="xtitle" text-anchor="middle"><tspan stroke="#333" stroke-width="0.35">2θ</tspan> [°]</text>
<text transform="translate(47.4,112.9) rotate(-90)" class="ytitle" text-anchor="middle" textLength="75.5" lengthAdjust="spacingAndGlyphs">XRD intensity [a.u.]</text>
<path d="M123.5,12.8 L127.2,7.6 L136.5,7.6" fill="none" stroke="#111" stroke-width="1.15"/>
<path d="M139.6,7.6 L135.4,5.6 L135.4,9.6 Z" fill="#1a1a1a"/>
<text x="141.5" y="13.2" class="pk">V<tspan class="sub" dy="1.4">2</tspan><tspan dy="-1.4">O</tspan><tspan class="sub" dy="1.4">3</tspan><tspan dy="-1.4"> (024)</tspan></text>
<text x="120.8" y="177.1" class="pk">V<tspan class="sub" dy="1.4">2</tspan><tspan dy="-1.4">O</tspan><tspan class="sub" dy="1.4">3</tspan><tspan dy="-1.4"> (022)</tspan></text>
<text x="145.8" y="197.7" class="pk">Al<tspan class="sub" dy="1.4">2</tspan><tspan dy="-1.4">O</tspan><tspan class="sub" dy="1.4">3</tspan><tspan dy="-1.4"> (012)</tspan></text>
<path d="M240.5,13.7 C241.75,14.45 245.37,16.68 248,18.2 C250.63,19.72 253.47,20.92 256.3,22.8 C259.13,24.68 261.95,27.07 265,29.5 C268.05,31.93 271.77,35.12 274.6,37.4 C277.43,39.68 279.57,41.52 282,43.2 C284.43,44.88 286.48,46.33 289.2,47.5 C291.92,48.67 294.83,49.63 298.3,50.2 C301.77,50.77 296.72,50.78 310,50.9 C323.28,51.02 366.67,50.90 378,50.9 L378,52.1 " fill="none"/>
<path d="M240.5,13.7 C241.75,14.45 245.37,16.68 248,18.2 C250.63,19.72 253.47,20.92 256.3,22.8 C259.13,24.68 261.95,27.07 265,29.5 C268.05,31.93 271.77,35.12 274.6,37.4 C277.43,39.68 279.57,41.52 282,43.2 C284.43,44.88 286.48,46.33 289.2,47.5 C291.92,48.67 294.83,49.63 298.3,50.2 C301.77,50.77 296.72,50.78 310,50.9 C323.28,51.02 366.67,50.90 378,50.9 L378,51.8 C362.50,51.78 302.23,51.85 285,51.7 C267.77,51.55 277.93,51.68 274.6,50.9 C271.27,50.12 268.05,48.65 265,47.0 C261.95,45.35 259.13,42.83 256.3,41 C253.47,39.17 250.63,37.75 248,36 C245.37,34.25 241.75,31.42 240.5,30.5 Z" fill="#f8edfc" stroke="none"/>
<path d="M240.5,13.7 C241.75,14.45 245.37,16.68 248,18.2 C250.63,19.72 253.47,20.92 256.3,22.8 C259.13,24.68 261.95,27.07 265,29.5 C268.05,31.93 271.77,35.12 274.6,37.4 C277.43,39.68 279.57,41.52 282,43.2 C284.43,44.88 286.48,46.33 289.2,47.5 C291.92,48.67 294.83,49.63 298.3,50.2 C301.77,50.77 296.72,50.78 310,50.9 C323.28,51.02 366.67,50.90 378,50.9" fill="none" stroke="#ecd6f6" stroke-width="0.7"/>
<path d="M240.5,30.5 C241.75,31.42 245.37,34.25 248,36 C250.63,37.75 253.47,39.17 256.3,41 C259.13,42.83 261.95,45.35 265,47.0 C268.05,48.65 271.27,50.12 274.6,50.9 C277.93,51.68 267.77,51.55 285,51.7 C302.23,51.85 362.50,51.78 378,51.8" fill="none" stroke="#ecd6f6" stroke-width="0.7"/>
<polyline points="251.31,18.18 256.52,20.29 263.05,24.93 269.57,42.08 276.10,68.02 282.62,87.53 289.15,93.30 302.20,93.30 315.25,93.30 347.88,93.30 380.50,93.30" fill="none" stroke="#3aa83a" stroke-width="0.9"/>
<polyline points="251.31,80.54 256.52,78.26 263.05,74.28 269.57,58.58 276.10,34.93 282.62,17.12 289.15,12.00 302.20,12.00 315.25,12.00 347.88,12.00 380.50,12.00" fill="none" stroke="#e040f0" stroke-width="0.9"/>
<circle cx="251.31" cy="18.18" r="1.25" fill="#0c7a14"/>
<circle cx="256.52" cy="20.29" r="1.25" fill="#0c7a14"/>
<circle cx="263.05" cy="24.93" r="1.25" fill="#0c7a14"/>
<circle cx="269.57" cy="42.08" r="1.25" fill="#0c7a14"/>
<circle cx="276.10" cy="68.02" r="1.25" fill="#0c7a14"/>
<circle cx="282.62" cy="87.53" r="1.25" fill="#0c7a14"/>
<circle cx="289.15" cy="93.30" r="1.25" fill="#0c7a14"/>
<circle cx="302.20" cy="93.30" r="1.25" fill="#0c7a14"/>
<circle cx="315.25" cy="93.30" r="1.25" fill="#0c7a14"/>
<circle cx="347.88" cy="93.30" r="1.25" fill="#0c7a14"/>
<circle cx="380.50" cy="93.30" r="1.25" fill="#0c7a14"/>
<circle cx="251.31" cy="80.54" r="1.25" fill="#d010e8"/>
<circle cx="256.52" cy="78.26" r="1.25" fill="#d010e8"/>
<circle cx="263.05" cy="74.28" r="1.25" fill="#d010e8"/>
<circle cx="269.57" cy="58.58" r="1.25" fill="#d010e8"/>
<circle cx="276.10" cy="34.93" r="1.25" fill="#d010e8"/>
<circle cx="282.62" cy="17.12" r="1.25" fill="#d010e8"/>
<circle cx="289.15" cy="12.00" r="1.25" fill="#d010e8"/>
<circle cx="302.20" cy="12.00" r="1.25" fill="#d010e8"/>
<circle cx="315.25" cy="12.00" r="1.25" fill="#d010e8"/>
<circle cx="347.88" cy="12.00" r="1.25" fill="#d010e8"/>
<circle cx="380.50" cy="12.00" r="1.25" fill="#d010e8"/>
<path d="M271.5,48.3 L273.4,51.6 L269.6,51.6 Z" fill="#e8202a"/>
<text x="275.9" y="59.7" class="sm" textLength="17" lengthAdjust="spacingAndGlyphs">133.4 K</text>
<rect x="240.3" y="3.8" width="146.2" height="97.9" fill="none" stroke="#333" stroke-width="0.9"/>
<line x1="239.4" y1="99.80" x2="241.3" y2="99.80" stroke="#222" stroke-width="0.6"/>
<line x1="239.4" y1="96.55" x2="241.3" y2="96.55" stroke="#222" stroke-width="0.6"/>
<line x1="239.4" y1="93.30" x2="242.10000000000002" y2="93.30" stroke="#222" stroke-width="0.6"/>
<line x1="239.4" y1="90.05" x2="241.3" y2="90.05" stroke="#222" stroke-width="0.6"/>
<line x1="239.4" y1="86.80" x2="241.3" y2="86.80" stroke="#222" stroke-width="0.6"/>
<line x1="239.4" y1="83.54" x2="241.3" y2="83.54" stroke="#222" stroke-width="0.6"/>
<line x1="239.4" y1="80.29" x2="241.3" y2="80.29" stroke="#222" stroke-width="0.6"/>
<line x1="239.4" y1="77.04" x2="242.10000000000002" y2="77.04" stroke="#222" stroke-width="0.6"/>
<line x1="239.4" y1="73.79" x2="241.3" y2="73.79" stroke="#222" stroke-width="0.6"/>
<line x1="239.4" y1="70.54" x2="241.3" y2="70.54" stroke="#222" stroke-width="0.6"/>
<line x1="239.4" y1="67.28" x2="241.3" y2="67.28" stroke="#222" stroke-width="0.6"/>
<line x1="239.4" y1="64.03" x2="241.3" y2="64.03" stroke="#222" stroke-width="0.6"/>
<line x1="239.4" y1="60.78" x2="242.10000000000002" y2="60.78" stroke="#222" stroke-width="0.6"/>
<line x1="239.4" y1="57.53" x2="241.3" y2="57.53" stroke="#222" stroke-width="0.6"/>
<line x1="239.4" y1="54.28" x2="241.3" y2="54.28" stroke="#222" stroke-width="0.6"/>
<line x1="239.4" y1="51.02" x2="241.3" y2="51.02" stroke="#222" stroke-width="0.6"/>
<line x1="239.4" y1="47.77" x2="241.3" y2="47.77" stroke="#222" stroke-width="0.6"/>
<line x1="239.4" y1="44.52" x2="242.10000000000002" y2="44.52" stroke="#222" stroke-width="0.6"/>
<line x1="239.4" y1="41.27" x2="241.3" y2="41.27" stroke="#222" stroke-width="0.6"/>
<line x1="239.4" y1="38.02" x2="241.3" y2="38.02" stroke="#222" stroke-width="0.6"/>
<line x1="239.4" y1="34.76" x2="241.3" y2="34.76" stroke="#222" stroke-width="0.6"/>
<line x1="239.4" y1="31.51" x2="241.3" y2="31.51" stroke="#222" stroke-width="0.6"/>
<line x1="239.4" y1="28.26" x2="242.10000000000002" y2="28.26" stroke="#222" stroke-width="0.6"/>
<line x1="239.4" y1="25.01" x2="241.3" y2="25.01" stroke="#222" stroke-width="0.6"/>
<line x1="239.4" y1="21.76" x2="241.3" y2="21.76" stroke="#222" stroke-width="0.6"/>
<line x1="239.4" y1="18.50" x2="241.3" y2="18.50" stroke="#222" stroke-width="0.6"/>
<line x1="239.4" y1="15.25" x2="241.3" y2="15.25" stroke="#222" stroke-width="0.6"/>
<line x1="239.4" y1="12.00" x2="242.10000000000002" y2="12.00" stroke="#222" stroke-width="0.6"/>
<line x1="239.4" y1="8.75" x2="241.3" y2="8.75" stroke="#222" stroke-width="0.6"/>
<line x1="239.4" y1="5.50" x2="241.3" y2="5.50" stroke="#222" stroke-width="0.6"/>
<text x="237.8" y="13.5" class="ax" text-anchor="end">1,0</text>
<text x="237.8" y="29.8" class="ax" text-anchor="end">0,8</text>
<text x="237.8" y="46.0" class="ax" text-anchor="end">0,6</text>
<text x="237.8" y="62.3" class="ax" text-anchor="end">0,4</text>
<text x="237.8" y="78.5" class="ax" text-anchor="end">0,2</text>
<text x="237.8" y="94.8" class="ax" text-anchor="end">0,0</text>
<line x1="246.74" y1="101.7" x2="246.74" y2="100.7" stroke="#222" stroke-width="0.6"/>
<line x1="253.26" y1="101.7" x2="253.26" y2="100.7" stroke="#222" stroke-width="0.6"/>
<line x1="259.79" y1="101.7" x2="259.79" y2="100.7" stroke="#222" stroke-width="0.6"/>
<line x1="266.31" y1="101.7" x2="266.31" y2="100.7" stroke="#222" stroke-width="0.6"/>
<line x1="272.84" y1="101.7" x2="272.84" y2="100.7" stroke="#222" stroke-width="0.6"/>
<line x1="279.36" y1="101.7" x2="279.36" y2="100.7" stroke="#222" stroke-width="0.6"/>
<line x1="285.89" y1="101.7" x2="285.89" y2="100.7" stroke="#222" stroke-width="0.6"/>
<line x1="292.41" y1="101.7" x2="292.41" y2="100.7" stroke="#222" stroke-width="0.6"/>
<line x1="298.94" y1="101.7" x2="298.94" y2="100.7" stroke="#222" stroke-width="0.6"/>
<line x1="305.46" y1="101.7" x2="305.46" y2="100.7" stroke="#222" stroke-width="0.6"/>
<line x1="311.99" y1="101.7" x2="311.99" y2="100.7" stroke="#222" stroke-width="0.6"/>
<line x1="318.51" y1="101.7" x2="318.51" y2="100.7" stroke="#222" stroke-width="0.6"/>
<line x1="325.04" y1="101.7" x2="325.04" y2="100.7" stroke="#222" stroke-width="0.6"/>
<line x1="331.56" y1="101.7" x2="331.56" y2="100.7" stroke="#222" stroke-width="0.6"/>
<line x1="338.09" y1="101.7" x2="338.09" y2="100.7" stroke="#222" stroke-width="0.6"/>
<line x1="344.61" y1="101.7" x2="344.61" y2="100.7" stroke="#222" stroke-width="0.6"/>
<line x1="351.14" y1="101.7" x2="351.14" y2="100.7" stroke="#222" stroke-width="0.6"/>
<line x1="357.66" y1="101.7" x2="357.66" y2="100.7" stroke="#222" stroke-width="0.6"/>
<line x1="364.19" y1="101.7" x2="364.19" y2="100.7" stroke="#222" stroke-width="0.6"/>
<line x1="370.71" y1="101.7" x2="370.71" y2="100.7" stroke="#222" stroke-width="0.6"/>
<line x1="377.24" y1="101.7" x2="377.24" y2="100.7" stroke="#222" stroke-width="0.6"/>
<line x1="383.76" y1="101.7" x2="383.76" y2="100.7" stroke="#222" stroke-width="0.6"/>
<text x="250.0" y="108.2" class="ax" text-anchor="middle">100</text>
<text x="282.6" y="108.2" class="ax" text-anchor="middle">150</text>
<text x="315.2" y="108.2" class="ax" text-anchor="middle">200</text>
<text x="347.9" y="108.2" class="ax" text-anchor="middle">250</text>
<text x="380.5" y="108.2" class="ax" text-anchor="middle">300</text>
<text x="309.4" y="117.4" class="ax2" text-anchor="middle" textLength="36.7" lengthAdjust="spacingAndGlyphs">Temperature [K]</text>
<line x1="386.5" y1="94.55" x2="384.5" y2="94.55" stroke="#222" stroke-width="0.7"/>
<line x1="386.5" y1="89.99" x2="385.5" y2="89.99" stroke="#222" stroke-width="0.5"/>
<line x1="386.5" y1="87.32" x2="385.5" y2="87.32" stroke="#222" stroke-width="0.5"/>
<line x1="386.5" y1="85.43" x2="385.5" y2="85.43" stroke="#222" stroke-width="0.5"/>
<line x1="386.5" y1="83.96" x2="385.5" y2="83.96" stroke="#222" stroke-width="0.5"/>
<line x1="386.5" y1="82.76" x2="385.5" y2="82.76" stroke="#222" stroke-width="0.5"/>
<line x1="386.5" y1="81.75" x2="385.5" y2="81.75" stroke="#222" stroke-width="0.5"/>
<line x1="386.5" y1="80.87" x2="385.5" y2="80.87" stroke="#222" stroke-width="0.5"/>
<line x1="386.5" y1="80.09" x2="385.5" y2="80.09" stroke="#222" stroke-width="0.5"/>
<text x="389.0" y="95.9" class="ax">10<tspan class="sup" dy="-2">-1</tspan></text>
<line x1="386.5" y1="79.40" x2="384.5" y2="79.40" stroke="#222" stroke-width="0.7"/>
<line x1="386.5" y1="74.84" x2="385.5" y2="74.84" stroke="#222" stroke-width="0.5"/>
<line x1="386.5" y1="72.17" x2="385.5" y2="72.17" stroke="#222" stroke-width="0.5"/>
<line x1="386.5" y1="70.28" x2="385.5" y2="70.28" stroke="#222" stroke-width="0.5"/>
<line x1="386.5" y1="68.81" x2="385.5" y2="68.81" stroke="#222" stroke-width="0.5"/>
<line x1="386.5" y1="67.61" x2="385.5" y2="67.61" stroke="#222" stroke-width="0.5"/>
<line x1="386.5" y1="66.60" x2="385.5" y2="66.60" stroke="#222" stroke-width="0.5"/>
<line x1="386.5" y1="65.72" x2="385.5" y2="65.72" stroke="#222" stroke-width="0.5"/>
<line x1="386.5" y1="64.94" x2="385.5" y2="64.94" stroke="#222" stroke-width="0.5"/>
<text x="389.0" y="80.7" class="ax">10<tspan class="sup" dy="-2">0</tspan></text>
<line x1="386.5" y1="64.25" x2="384.5" y2="64.25" stroke="#222" stroke-width="0.7"/>
<line x1="386.5" y1="59.69" x2="385.5" y2="59.69" stroke="#222" stroke-width="0.5"/>
<line x1="386.5" y1="57.02" x2="385.5" y2="57.02" stroke="#222" stroke-width="0.5"/>
<line x1="386.5" y1="55.13" x2="385.5" y2="55.13" stroke="#222" stroke-width="0.5"/>
<line x1="386.5" y1="53.66" x2="385.5" y2="53.66" stroke="#222" stroke-width="0.5"/>
<line x1="386.5" y1="52.46" x2="385.5" y2="52.46" stroke="#222" stroke-width="0.5"/>
<line x1="386.5" y1="51.45" x2="385.5" y2="51.45" stroke="#222" stroke-width="0.5"/>
<line x1="386.5" y1="50.57" x2="385.5" y2="50.57" stroke="#222" stroke-width="0.5"/>
<line x1="386.5" y1="49.79" x2="385.5" y2="49.79" stroke="#222" stroke-width="0.5"/>
<text x="389.0" y="65.5" class="ax">10<tspan class="sup" dy="-2">1</tspan></text>
<line x1="386.5" y1="49.10" x2="384.5" y2="49.10" stroke="#222" stroke-width="0.7"/>
<line x1="386.5" y1="44.54" x2="385.5" y2="44.54" stroke="#222" stroke-width="0.5"/>
<line x1="386.5" y1="41.87" x2="385.5" y2="41.87" stroke="#222" stroke-width="0.5"/>
<line x1="386.5" y1="39.98" x2="385.5" y2="39.98" stroke="#222" stroke-width="0.5"/>
<line x1="386.5" y1="38.51" x2="385.5" y2="38.51" stroke="#222" stroke-width="0.5"/>
<line x1="386.5" y1="37.31" x2="385.5" y2="37.31" stroke="#222" stroke-width="0.5"/>
<line x1="386.5" y1="36.30" x2="385.5" y2="36.30" stroke="#222" stroke-width="0.5"/>
<line x1="386.5" y1="35.42" x2="385.5" y2="35.42" stroke="#222" stroke-width="0.5"/>
<line x1="386.5" y1="34.64" x2="385.5" y2="34.64" stroke="#222" stroke-width="0.5"/>
<text x="389.0" y="50.4" class="ax">10<tspan class="sup" dy="-2">2</tspan></text>
<line x1="386.5" y1="33.95" x2="384.5" y2="33.95" stroke="#222" stroke-width="0.7"/>
<line x1="386.5" y1="29.39" x2="385.5" y2="29.39" stroke="#222" stroke-width="0.5"/>
<line x1="386.5" y1="26.72" x2="385.5" y2="26.72" stroke="#222" stroke-width="0.5"/>
<line x1="386.5" y1="24.83" x2="385.5" y2="24.83" stroke="#222" stroke-width="0.5"/>
<line x1="386.5" y1="23.36" x2="385.5" y2="23.36" stroke="#222" stroke-width="0.5"/>
<line x1="386.5" y1="22.16" x2="385.5" y2="22.16" stroke="#222" stroke-width="0.5"/>
<line x1="386.5" y1="21.15" x2="385.5" y2="21.15" stroke="#222" stroke-width="0.5"/>
<line x1="386.5" y1="20.27" x2="385.5" y2="20.27" stroke="#222" stroke-width="0.5"/>
<line x1="386.5" y1="19.49" x2="385.5" y2="19.49" stroke="#222" stroke-width="0.5"/>
<text x="389.0" y="35.2" class="ax">10<tspan class="sup" dy="-2">3</tspan></text>
<line x1="386.5" y1="18.80" x2="384.5" y2="18.80" stroke="#222" stroke-width="0.7"/>
<line x1="386.5" y1="14.24" x2="385.5" y2="14.24" stroke="#222" stroke-width="0.5"/>
<line x1="386.5" y1="11.57" x2="385.5" y2="11.57" stroke="#222" stroke-width="0.5"/>
<line x1="386.5" y1="9.68" x2="385.5" y2="9.68" stroke="#222" stroke-width="0.5"/>
<line x1="386.5" y1="8.21" x2="385.5" y2="8.21" stroke="#222" stroke-width="0.5"/>
<line x1="386.5" y1="7.01" x2="385.5" y2="7.01" stroke="#222" stroke-width="0.5"/>
<line x1="386.5" y1="6.00" x2="385.5" y2="6.00" stroke="#222" stroke-width="0.5"/>
<line x1="386.5" y1="5.12" x2="385.5" y2="5.12" stroke="#222" stroke-width="0.5"/>
<line x1="386.5" y1="4.34" x2="385.5" y2="4.34" stroke="#222" stroke-width="0.5"/>
<text x="389.0" y="20.1" class="ax">10<tspan class="sup" dy="-2">4</tspan></text>
<line x1="386.5" y1="3.65" x2="384.5" y2="3.65" stroke="#222" stroke-width="0.7"/>
<text x="389.0" y="5.0" class="ax">10<tspan class="sup" dy="-2">5</tspan></text>
<text transform="translate(405.6,56.0) rotate(-90)" class="ax3" text-anchor="middle" textLength="32.5" lengthAdjust="spacingAndGlyphs">Log(ρ) [Ω]</text>
<line x1="328.1" y1="28.25" x2="335.6" y2="28.25" stroke="#e040f0" stroke-width="0.9"/>
<line x1="328.1" y1="34.9" x2="335.6" y2="34.9" stroke="#3aa83a" stroke-width="0.9"/>
<text x="338.1" y="30.2" class="lg" textLength="36.6" lengthAdjust="spacingAndGlyphs">Rohombohedral</text>
<text x="338.1" y="36.9" class="lg" textLength="24.4" lengthAdjust="spacingAndGlyphs">Monoclinic</text>
<text x="321.3" y="91.3" class="rt" textLength="54.3" lengthAdjust="spacingAndGlyphs"><tspan font-weight="bold" font-style="italic">r-</tspan> Al<tspan class="sub2" dy="0.5">2</tspan><tspan dy="-0.5">O</tspan><tspan class="sub2" dy="0.5">3</tspan><tspan dy="-0.5"> / V</tspan><tspan class="sub2" dy="0.5">2</tspan><tspan dy="-0.5">O</tspan><tspan class="sub2" dy="0.5">3</tspan></text>
<text x="230.1" y="131.6" class="tb" textLength="151.3" lengthAdjust="spacingAndGlyphs">Metal-insulator and structural-phase</text>
<text x="230.1" y="143.3" class="tb" textLength="151.6" lengthAdjust="spacingAndGlyphs">and transition of V<tspan class="sub3" dy="0.6">2</tspan><tspan dy="-0.6">O</tspan><tspan class="sub3" dy="0.6">3</tspan><tspan dy="-0.6"> on </tspan><tspan font-style="italic">r</tspan>-, <tspan font-style="italic">c</tspan>-, <tspan font-style="italic">a</tspan>- and</text>
<text x="230.1" y="154.2" class="tb" textLength="80.8" lengthAdjust="spacingAndGlyphs"><tspan font-style="italic">m</tspan>-Al<tspan class="sub3" dy="0.6">2</tspan><tspan dy="-0.6">O</tspan><tspan class="sub3" dy="0.6">3</tspan><tspan dy="-0.6"> substrates.</tspan></text>
<clipPath id="cubeclip"><path d="M297.3,159.8 L322,151.8 L383.5,155.6 Q386.6,156.2 386.6,159.2 L386.6,215.2 L370,236.8 Q367.5,239.4 364,238.2 L306.6,226 Z"/></clipPath>
<g clip-path="url(#cubeclip)">
<polygon points="297.3,159.8 322,151.8 385.5,155.8 387,158.0 365,166.8" fill="url(#tp)" />
<polygon points="297.3,159.8 365,166.8 366.8,211.8 304.2,204.3" fill="url(#gv)" />
<polygon points="297.3,159.8 365,166.8 366.8,211.8 304.2,204.3" fill="url(#shV)" />
<polygon points="304.2,204.3 366.8,211.8 367,238.6 306.6,226.0" fill="url(#ga)" />
<polygon points="304.2,204.3 366.8,211.8 367,238.6 306.6,226.0" fill="url(#shA)" />
<polygon points="365,166.8 387,158.0 387,196.4 366.8,211.8" fill="url(#sv)" />
<polygon points="366.8,211.8 387,196.4 387,215.5 367,238.6" fill="url(#sa)" />
<polygon points="366.8,211.8 387,196.4 387,215.5 367,238.6" fill="url(#shA)" />
</g>
<text x="305.8" y="197.8" class="cb">V<tspan class="csub" dy="3">2</tspan><tspan dy="-3">O</tspan><tspan class="csub" dy="3">3</tspan></text>
<text x="310.5" y="224.3" class="cb">Al<tspan class="csub" dy="3">2</tspan><tspan dy="-3">O</tspan><tspan class="csub" dy="3">3</tspan></text>
<path d="M279.8,212 L279.8,235.2 L304.2,235.2 M279.8,235.2 L298.8,216.4" fill="none" stroke="#4896a2" stroke-width="1"/>
<text transform="translate(276.9,219.9) rotate(-90)" class="ser" text-anchor="middle">[001]</text>
<text transform="translate(291.0,219.0) rotate(-45)" class="ser ser2" text-anchor="middle">[1<tspan text-decoration="overline">1</tspan>0]</text>
<text x="297.5" y="243.6" class="ser" text-anchor="middle">[110]</text>
</svg></body></html>
